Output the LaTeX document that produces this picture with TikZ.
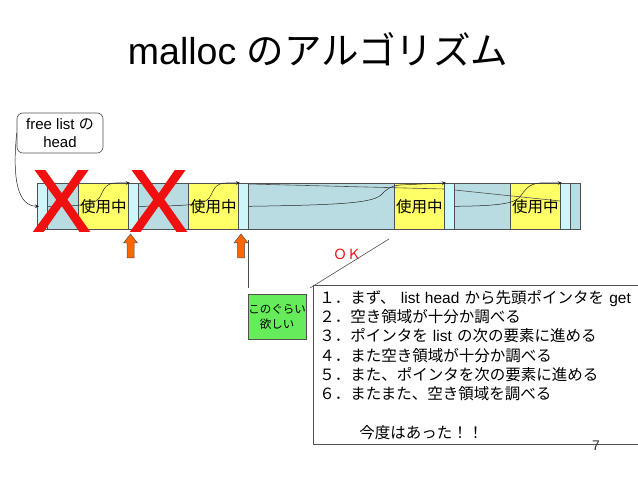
\documentclass[tikz,border=0pt]{standalone}
\usepackage{fontspec}
\setmainfont{Noto Sans CJK JP}
\newfontfamily\lat{Liberation Sans}
\newfontfamily\latx{Liberation Sans}[FakeBold=1.6]
\usepackage{tikz}
\usetikzlibrary{arrows.meta}
\definecolor{freeblue}{RGB}{184,220,226}
\definecolor{hdrcyan}{RGB}{204,246,250}
\definecolor{usedyellow}{RGB}{255,255,102}
\definecolor{wantgreen}{RGB}{102,236,90}
\definecolor{arrowor}{RGB}{255,102,0}
\definecolor{xred}{RGB}{240,16,16}
\definecolor{edgegray}{RGB}{80,80,80}
\tikzstyle{blk}=[draw=edgegray, line width=0.6pt, inner sep=0pt, minimum height=46pt, anchor=north west]
\tikzstyle{hblk}=[blk, fill=hdrcyan, minimum width=10pt]
\tikzstyle{fblk}=[blk, fill=freeblue]
\tikzstyle{ublk}=[blk, fill=usedyellow, minimum width=50pt, font=\fontsize{15.5}{18}\selectfont]
\tikzstyle{ptr}=[draw=black!85, line width=0.5pt, shorten >=-2pt, -{Stealth[length=4pt,width=3.5pt]}]
\tikzstyle{stray}=[draw=edgegray, line width=0.6pt]
\tikzstyle{xmark}=[text=xred, inner sep=0pt, font=\latx\fontsize{88}{88}\selectfont]
\tikzstyle{upblk}=[fill=arrowor, draw=edgegray, line width=0.5pt]
\tikzstyle{callout}=[draw=edgegray, line width=0.6pt]
\newcommand{\hblk}{\node[hblk]}
\newcommand{\fblk}{\node[fblk]}
\newcommand{\ublk}{\node[ublk]}
\newcommand{\upblk}[1]{\draw[upblk, shift={(#1,0)}] (-3.5,258) -- (-3.5,243) -- (-7,243) -- (0,234) -- (7,243) -- (3.5,243) -- (3.5,258) -- cycle;}

\begin{document}
\begin{tikzpicture}[x=1pt, y=-1pt,
    headbox/.style={draw=edgegray, line width=0.6pt, rounded corners=6pt, minimum width=86pt, minimum height=40pt,
                    inner sep=0pt, align=center, font=\fontsize{15}{18}\selectfont},
    want/.style={draw=edgegray, line width=0.6pt, fill=wantgreen, anchor=north west, minimum width=56pt,
                 minimum height=45pt, inner sep=0pt, align=center, font=\fontsize{11.5}{15}\selectfont},
    tbox/.style={draw=edgegray, line width=0.6pt, fill=white, anchor=north west, inner xsep=6pt, inner ysep=0pt,
                 text width=330pt, minimum height=159pt, align=left, font=\fontsize{15.5}{19.3}\selectfont}
]
\useasboundingbox (0,0) rectangle (638,478);
\clip (0,0) rectangle (638,478);
\fill[white] (0,0) rectangle (638,478);

\node[font=\fontsize{37.5}{40}\selectfont, anchor=base] (title) at (318,65) {{\lat malloc }のアルゴリズム};
\node[headbox] (flbox) at (60,133) {{\lat free list }の\\{\lat head}};

% the heap, block by block
\hblk (h1) at (37,183) {};
\fblk (f1) at (47,183) [minimum width=31pt] {};
\ublk (u1) at (78,183) {使用中};
\hblk (h2) at (128,183) {};
\fblk (f2) at (138,183) [minimum width=50pt] {};
\ublk (u2) at (188,183) {使用中};
\hblk (h3) at (238,183) {};
\fblk (f3) at (248,183) [minimum width=146pt] {};
\ublk (u3) at (394,183) {使用中};
\hblk (h4) at (444,183) {};
\fblk (f4) at (454,183) [minimum width=56pt] {};
\ublk (u4) at (510,183) {使用中};
\hblk (h5) at (560,183) {};
\fblk (f5) at (570,183) [minimum width=10pt] {};

\draw[stray] ([yshift=-1pt]h3.north east) -- ([yshift=-6pt]h4.north west);
\draw[stray] ([yshift=-7pt]h4.north east) -- ([yshift=-18pt]h5.north west);

% next pointers
\draw[ptr] (h1.east) .. controls (88,206) and (97,204) .. (101,195) .. controls (105,186) and (108,183) .. (116,183) -- (h2.north west);
\draw[ptr] (h2.east) .. controls (198,206) and (207,204) .. (211,195) .. controls (215,186) and (218,183) .. (226,183) -- (h3.north west);
\draw[ptr] (h3.east) .. controls (340,205) and (372,203) .. (381,195) .. controls (387,189) and (390,186) .. (400,185) -- (h4.north west);
\draw[ptr] (h4.east) .. controls (495,206) and (514,204) .. (520,197) .. controls (525,190) and (528,184) .. (540,183) -- (h5.north west);
\draw[ptr] (flbox.west) .. controls (12,180) and (18,206) .. (h1.west);

\node[xmark] (x1) at (61.5,201) {X};
\node[xmark] (x2) at (158.5,201) {X};

\upblk{130.5}
\upblk{241}

\node[want] (gbox) at (248,294) {このぐらい\\欲しい};
\coordinate (gtip) at (248,240);
\draw[callout] ([yshift=6pt]gbox.north west) -- (gtip);

\node[text=xred, font=\fontsize{14}{16}\selectfont] (ok) at (347,254) {ＯＫ};
\coordinate (oktip) at (389,239);
\node[tbox] (steps) at (313,285) {１．まず、 {\lat list head} から先頭ポインタを {\lat get}\\
２．空き領域が十分か調べる\\
３．ポインタを {\lat list} の次の要素に進める\\
４．また空き領域が十分か調べる\\
５．また、ポインタを次の要素に進める\\
６．またまた、空き領域を調べる\\[19.3pt]
\hspace*{40pt}今度はあった！！};
\draw[callout] ([shift={(-3pt,-3pt)}]steps.north west) -- (oktip);

\node[text=black!80, font=\lat\fontsize{14}{16}\selectfont] (pg) at (596,446) {7};
\end{tikzpicture}
\end{document}
